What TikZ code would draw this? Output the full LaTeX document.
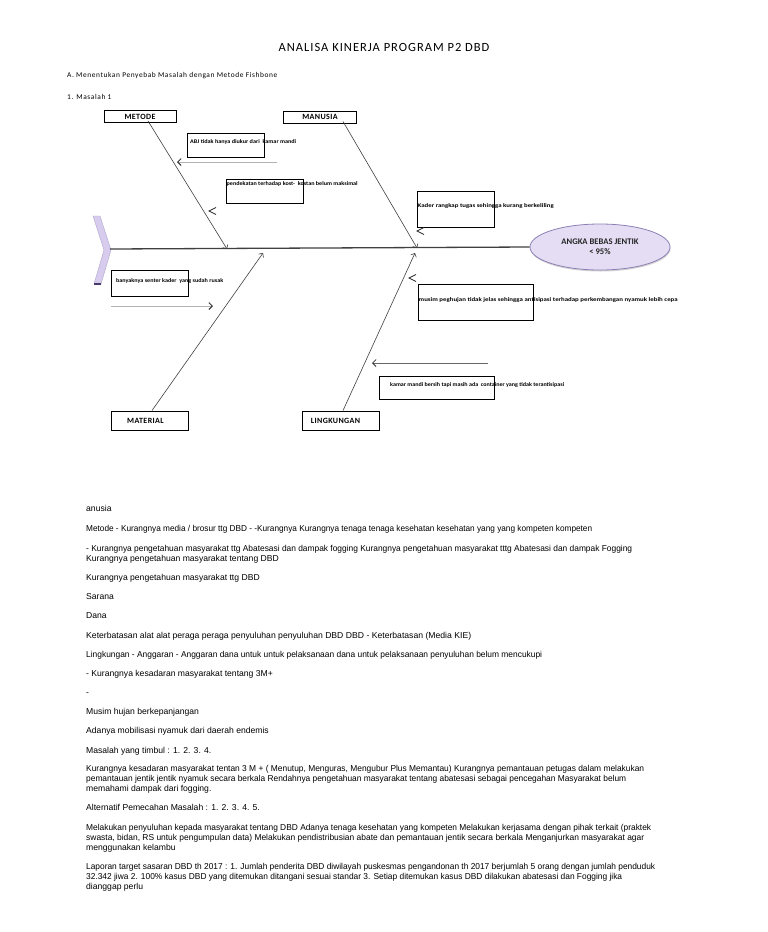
\documentclass[tikz,border=0pt]{standalone}
\usepackage{fontspec}
\usepackage{graphicx}
\setmainfont{Carlito}
\newfontfamily\arialf{Liberation Sans}
\usetikzlibrary{arrows.meta,shadows,shapes.geometric}
\definecolor{lav}{HTML}{E4DDF4}
\definecolor{lavdraw}{HTML}{8E80B4}
\definecolor{chevfill}{HTML}{D8CCEE}
\definecolor{chevdark}{HTML}{4A3A6A}
\newcommand\fitline[2]{\resizebox{#1pt}{\height}{#2}}
\tikzset{
  catbox/.style={draw=black, line width=0.9pt, inner sep=0pt, font=\addfontfeature{LetterSpace=5}\fontsize{8}{9}\selectfont\bfseries},
  causebox/.style={draw=black, line width=0.7pt, inner sep=0pt},
  causetxt/.style={anchor=west, inner sep=0pt, font=\fontsize{5.6}{6}\selectfont\bfseries},
  bone/.style={line width=0.6pt, draw=black!75, -{Straight Barb[length=3pt,width=6pt]}},
  grayarrow/.style={line width=0.9pt, draw=black!30, -{Straight Barb[length=3.5pt,width=7pt,color=black!80]}},
  darkarrow/.style={line width=0.8pt, draw=black!60, -{Straight Barb[length=3.5pt,width=7pt,color=black!80]}},
  marker/.style={line width=0.7pt, draw=black!85},
  para/.style={anchor=base west, inner sep=0pt, font=\arialf\fontsize{8.6}{10}\selectfont}
}
\begin{document}
\begin{tikzpicture}[x=1pt,y=-1pt]
\useasboundingbox (0,0) rectangle (768,932);
\fill[white] (0,0) rectangle (768,932);

% headings
\node[inner sep=0pt, font=\addfontfeature{LetterSpace=8}\fontsize{12.5}{14}\selectfont] (title) at (384,47) {ANALISA KINERJA PROGRAM P2 DBD};
\node[anchor=west, inner sep=0pt, font=\addfontfeature{LetterSpace=8}\fontsize{7.4}{9}\selectfont] (secA) at (67,76) {A. Menentukan Penyebab Masalah dengan Metode Fishbone};
\node[anchor=west, inner sep=0pt, font=\addfontfeature{LetterSpace=8}\fontsize{7.4}{9}\selectfont] (mas1) at (67,97) {1. Masalah 1};

% category boxes
\node[catbox, minimum width=72pt, minimum height=12pt] (metode) at (140,116.5) {METODE};
\node[catbox, minimum width=73pt, minimum height=12pt] (manusia) at (320,117) {MANUSIA};
\node[catbox, minimum width=77pt, minimum height=19pt] (material) at (149.5,420.5) {\hspace*{-8pt}MATERIAL};
\node[catbox, minimum width=77pt, minimum height=19pt] (lingkungan) at (340.5,420.5) {\hspace*{-10pt}LINGKUNGAN};

% effect (head)
\node[ellipse, minimum width=140pt, minimum height=46pt, fill=lav, draw=lavdraw, line width=0.8pt,
      drop shadow={opacity=0.35, shadow xshift=0.5pt, shadow yshift=-1.5pt},
      align=center, font=\fontsize{8.6}{11}\selectfont\bfseries, text=black!85] (effect) at (600,247)
      {ANGKA BEBAS JENTIK\\[-1pt]< 95\%};

% tail chevron
\fill[chevfill, draw=lavdraw!70, line width=0.4pt] (93,216) -- (100,216) -- (111,250) -- (101,284) -- (94,284) -- (104,250) -- cycle;
\draw[chevdark, line width=1.4pt] (94,284) -- (101,284);

% spine
\coordinate (tail) at (110,249);
\draw[line width=1.3pt, draw=black!75] (tail) -- (effect.west);

% bones
\coordinate (jm) at (227,249);
\coordinate (jn) at (417,248);
\coordinate (jt) at (263,253);
\coordinate (jl) at (415,253);
\draw[bone] ([xshift=8pt,yshift=2pt]metode.south) -- (jm);
\draw[bone] ([xshift=23pt,yshift=2pt]manusia.south) -- (jn);
\draw[bone] ([xshift=2.5pt]material.north) -- (jt);
\draw[bone] ([xshift=2.5pt]lingkungan.north) -- (jl);

% cause boxes and texts
\node[causebox, minimum width=77pt, minimum height=24pt] (abjbox) at (225.5,145) {};
\node[causetxt] (abjtxt) at (190,142) {\fitline{106}{ABJ tidak hanya diukur dari\ \ kamar mandi}};
\node[causebox, minimum width=77pt, minimum height=24pt] (pendbox) at (264.5,191) {};
\node[causetxt] (pendtxt) at (226.5,184) {\fitline{131}{pendekatan terhadap kost-\ \ kostan belum maksimal}};
\node[causebox, minimum width=77pt, minimum height=36pt] (kaderbox) at (455.5,209) {};
\node[causetxt] (kadertxt) at (417.5,206) {\fitline{136}{Kader rangkap tugas sehingga kurang berkeliling}};
\node[causebox, minimum width=77pt, minimum height=26pt] (banyakbox) at (149.5,283) {};
\node[causetxt] (banyaktxt) at (116,281) {\fitline{107}{banyaknya senter kader\ \ yang sudah rusak}};
\node[causebox, minimum width=115pt, minimum height=36pt] (musimbox) at (475.5,302) {};
\node[causetxt] (musimtxt) at (418.5,300) {\fitline{259}{musim peghujan tidak jelas sehingga antisipasi terhadap perkembangan nyamuk lebih cepa}};
\node[causebox, minimum width=115pt, minimum height=23pt] (kamarbox) at (436.5,387.5) {};
\node[causetxt] (kamartxt) at (390,385) {\fitline{174}{kamar mandi bersih tapi masih ada\ \ container yang tidak terantisipasi}};

% free arrows
\coordinate (a1s) at (277,162); \coordinate (a1e) at (177,162);
\coordinate (a2s) at (111,306); \coordinate (a2e) at (213,306);
\coordinate (a3s) at (488,363); \coordinate (a3e) at (372,363);
\draw[grayarrow] (a1s) -- (a1e);
\draw[grayarrow] (a2s) -- (a2e);
\draw[darkarrow] (a3s) -- (a3e);

% small chevron markers
\draw[marker] (216,207.5) -- (209,211) -- (216,214.5);
\draw[marker] (424,227.5) -- (417,231) -- (424,234.5);
\draw[marker] (416,274.5) -- (409,278) -- (416,281.5);

% paragraphs
\node[para] (p1) at (86,511) {anusia};
\node[para] (p2) at (86,531) {\fitline{506}{Metode - Kurangnya media / brosur ttg DBD - -Kurangnya Kurangnya tenaga tenaga kesehatan kesehatan yang yang kompeten kompeten}};
\node[para] (p3) at (86,551) {\fitline{546}{- Kurangnya pengetahuan masyarakat ttg Abatesasi dan dampak fogging Kurangnya pengetahuan masyarakat tttg Abatesasi dan dampak Fogging}};
\node[para] (p4) at (86,561) {Kurangnya pengetahuan masyarakat tentang DBD};
\node[para] (p5) at (86,580) {Kurangnya pengetahuan masyarakat ttg DBD};
\node[para] (p6) at (86,599) {Sarana};
\node[para] (p7) at (86,618) {Dana};
\node[para] (p8) at (86,638) {\fitline{385}{Keterbatasan alat alat peraga peraga penyuluhan penyuluhan DBD DBD - Keterbatasan (Media KIE)}};
\node[para] (p9) at (86,657) {\fitline{456}{Lingkungan - Anggaran - Anggaran dana untuk untuk pelaksanaan dana untuk pelaksanaan penyuluhan belum mencukupi}};
\node[para] (p10) at (86,676) {- Kurangnya kesadaran masyarakat tentang 3M+};
\node[para] (p11) at (86,695) {-};
\node[para] (p12) at (86,714) {Musim hujan berkepanjangan};
\node[para] (p13) at (86,733) {Adanya mobilisasi nyamuk dari daerah endemis};
\node[para] (p14) at (86,753) {Masalah yang timbul : 1. 2. 3. 4.};
\node[para] (p15) at (86,771) {\fitline{558}{Kurangnya kesadaran masyarakat tentan 3 M + ( Menutup, Menguras, Mengubur Plus Memantau) Kurangnya pemantauan petugas dalam melakukan}};
\node[para] (p16) at (86,781) {\fitline{540}{pemantauan jentik jentik nyamuk secara berkala Rendahnya pengetahuan masyarakat tentang abatesasi sebagai pencegahan Masyarakat belum}};
\node[para] (p17) at (86,791) {memahami dampak dari fogging.};
\node[para] (p18) at (86,810) {Alternatif Pemecahan Masalah : 1. 2. 3. 4. 5.};
\node[para] (p19) at (86,830) {\fitline{565}{Melakukan penyuluhan kepada masyarakat tentang DBD Adanya tenaga kesehatan yang kompeten Melakukan kerjasama dengan pihak terkait (praktek}};
\node[para] (p20) at (86,840) {\fitline{558}{swasta, bidan, RS untuk pengumpulan data) Melakukan pendistribusian abate dan pemantauan jentik secara berkala Menganjurkan masyarakat agar}};
\node[para] (p21) at (86,850) {menggunakan kelambu};
\node[para] (p22) at (86,869) {\fitline{569}{Laporan target sasaran DBD th 2017 : 1. Jumlah penderita DBD diwilayah puskesmas pengandonan th 2017 berjumlah 5 orang dengan jumlah penduduk}};
\node[para] (p23) at (86,879) {\fitline{536}{32.342 jiwa 2. 100\% kasus DBD yang ditemukan ditangani sesuai standar 3. Setiap ditemukan kasus DBD dilakukan abatesasi dan Fogging jika}};
\node[para] (p24) at (86,889) {dianggap perlu};
\end{tikzpicture}
\end{document}
